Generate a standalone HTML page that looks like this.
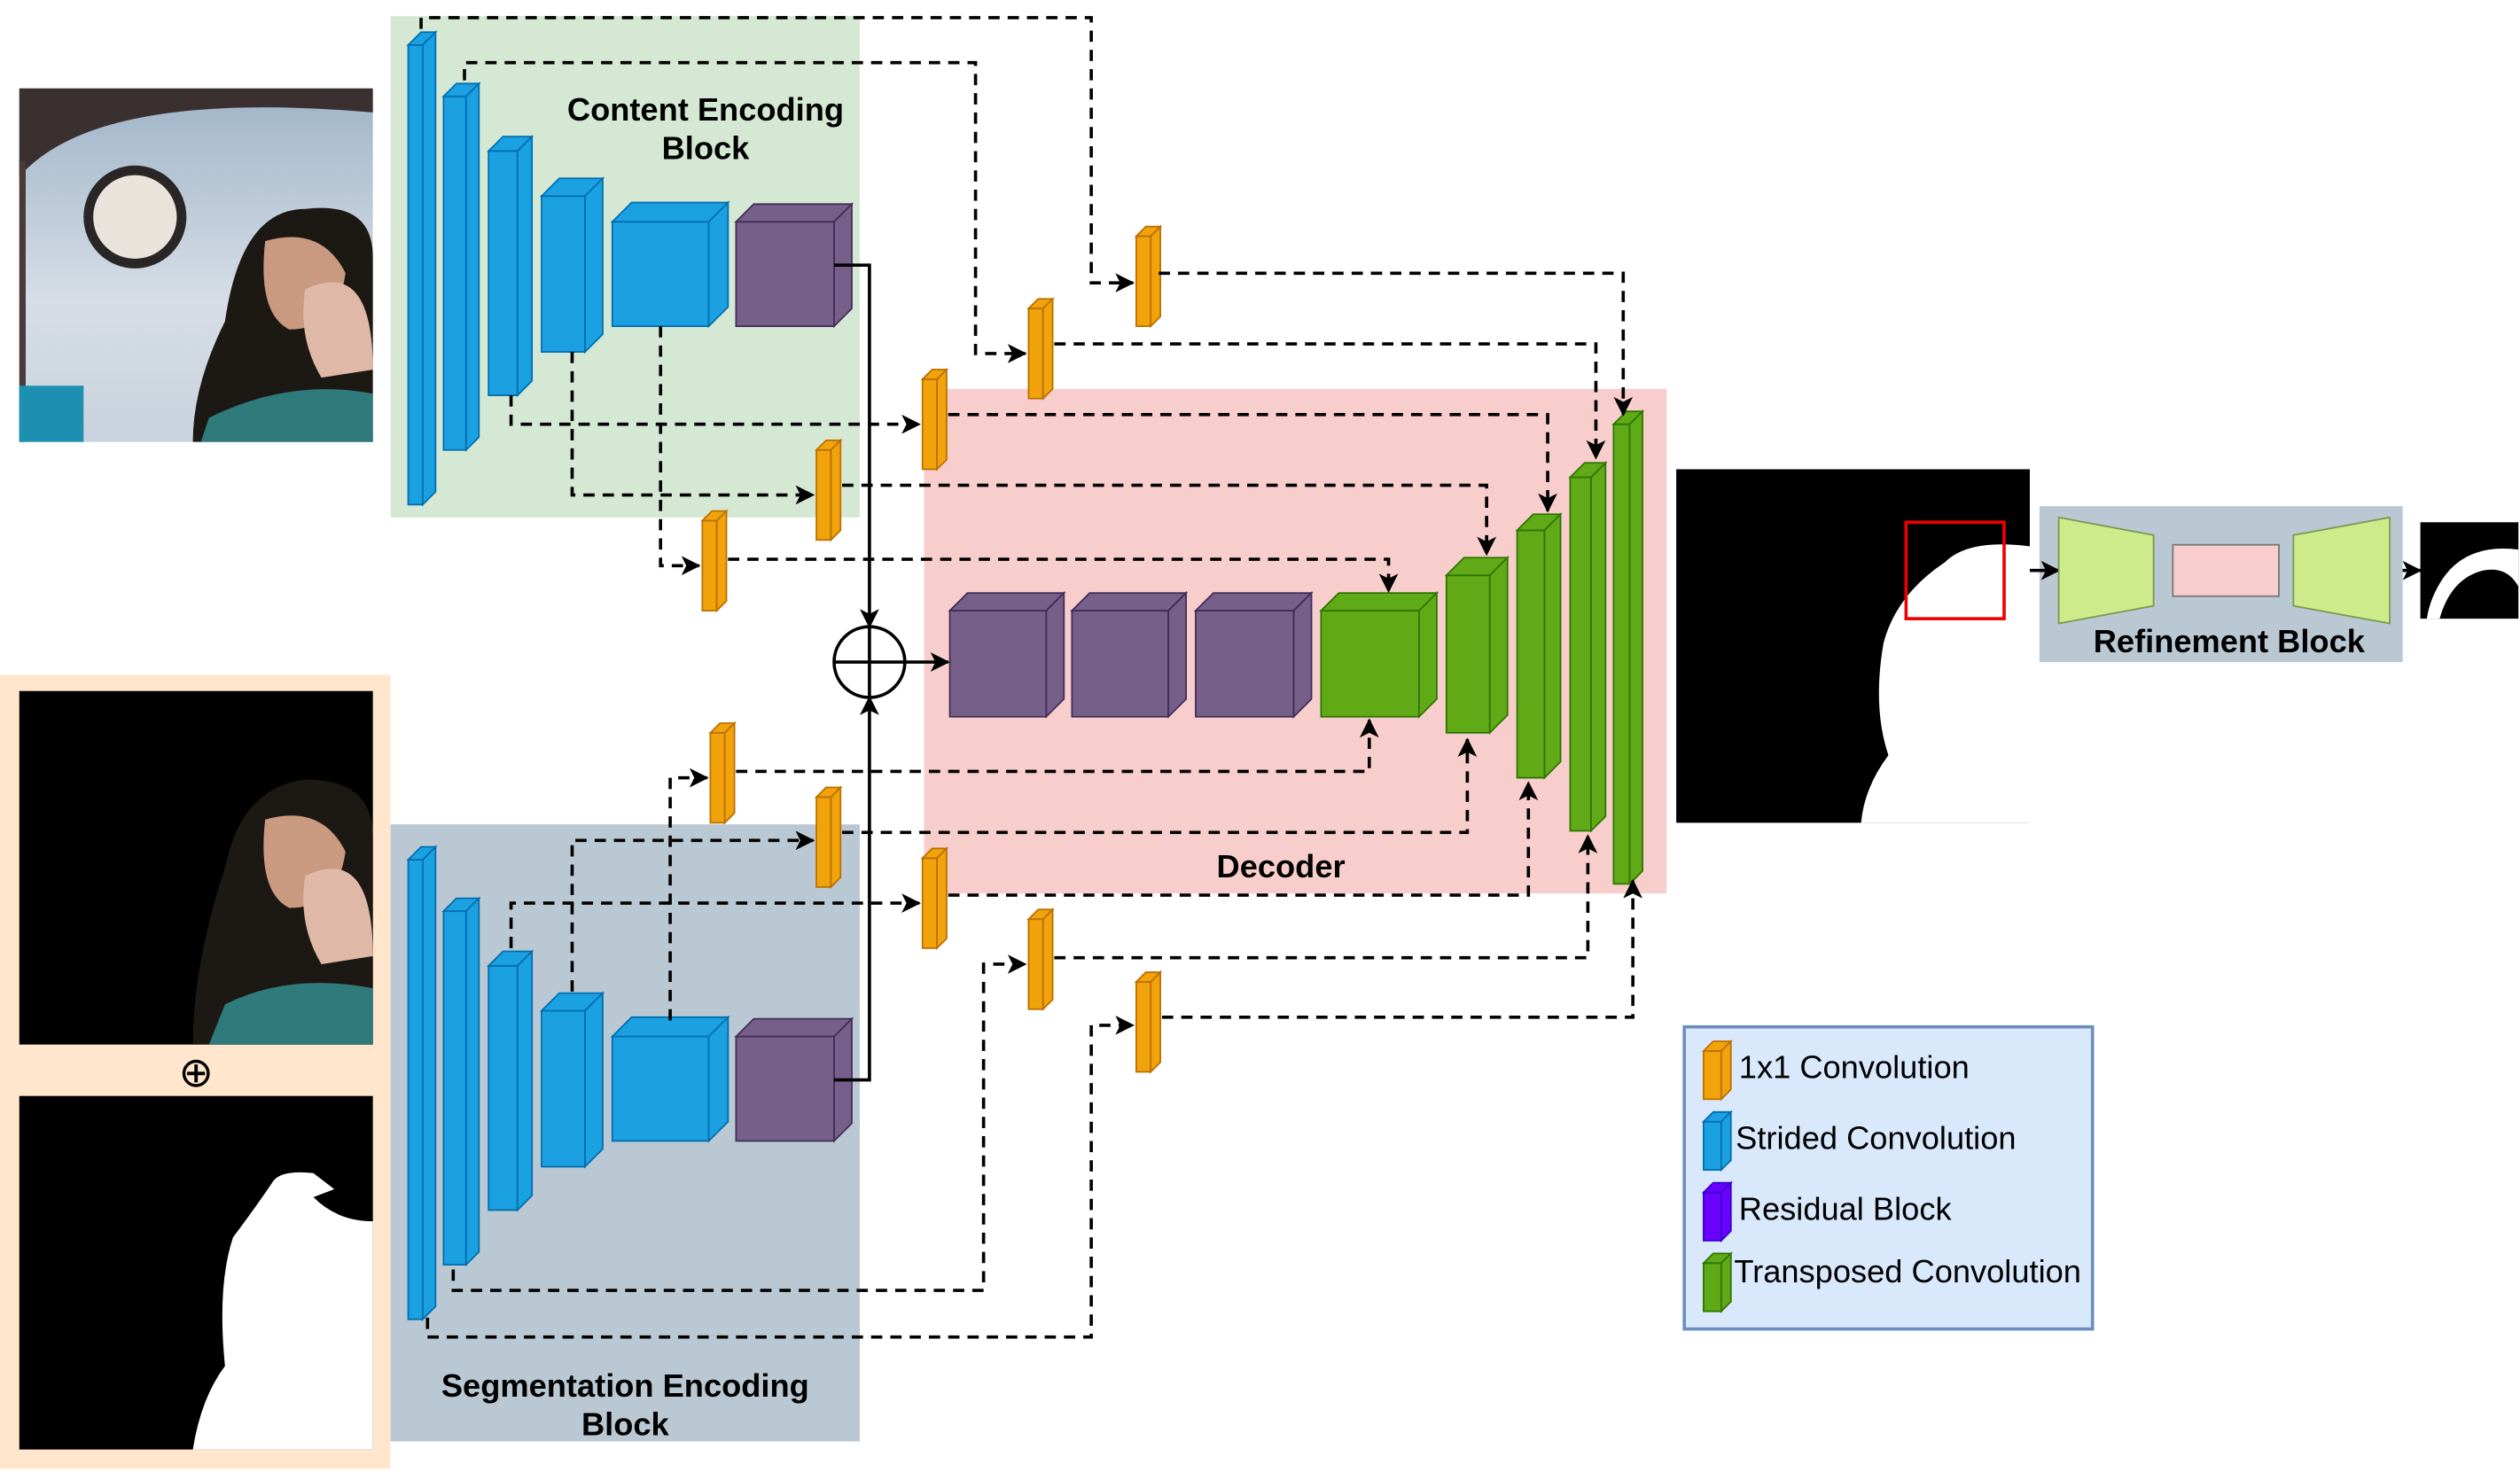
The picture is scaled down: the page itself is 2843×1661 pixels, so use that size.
<!DOCTYPE html>
<html><head><meta charset="utf-8"><style>
html,body{margin:0;padding:0;background:#fff;}
svg{display:block;}
text{font-family:"Liberation Sans",sans-serif;}
</style></head><body>
<svg id="s" width="2843" height="1661" viewBox="0 0 1568 916" preserveAspectRatio="none" xmlns="http://www.w3.org/2000/svg">
<defs>
<marker id="a" markerWidth="12" markerHeight="12" refX="11" refY="6" orient="auto" markerUnits="userSpaceOnUse"><path d="M0,0 L12,6 L0,12 L3,6 z" fill="#000"/></marker>
<linearGradient id="sky" x1="0" y1="0" x2="0" y2="1"><stop offset="0" stop-color="#9fb4c8"/><stop offset="0.6" stop-color="#d6dde6"/><stop offset="1" stop-color="#c9d3dd"/></linearGradient>
</defs>
<rect x="243" y="10" width="292" height="312" fill="#d5e8d4"/>
<rect x="243" y="513" width="292" height="384" fill="#bac8d3"/>
<rect x="0" y="420" width="243" height="494" fill="#ffe6cc"/>
<rect x="575" y="242" width="462" height="314" fill="#f8cecc"/>
<!-- photo -->
<rect x="12" y="55" width="220" height="220" fill="url(#sky)"/>
<path d="M12,110 Q60,55 232,70 L232,55 L12,55 z" fill="#3a3030"/>
<rect x="12" y="100" width="4" height="175" fill="#4a3a3a"/>
<circle cx="84" cy="135" r="32" fill="#2a2626"/><circle cx="84" cy="135" r="26" fill="#e8e4dc"/>
<path d="M140,200 Q150,130 190,130 Q232,125 232,160 L232,275 L120,275 Q120,240 140,200z" fill="#1c1814"/>
<path d="M165,150 Q200,140 215,170 Q210,205 180,205 Q160,195 165,150z" fill="#c99a80"/>
<path d="M190,180 Q232,160 232,230 L200,235 Q185,210 190,180z" fill="#e0b8a8"/>
<path d="M130,260 Q180,235 232,245 L232,275 L125,275z" fill="#2f7a7a"/>
<rect x="12" y="240" width="40" height="35" fill="#1d8fb0"/>
<!-- bottom images -->
<rect x="12" y="430" width="220" height="220" fill="#000"/>
<path d="M140,540 Q150,490 190,485 Q232,485 232,520 L232,650 L120,650 Q120,600 140,540z" fill="#1c1814"/>
<path d="M165,510 Q200,500 215,530 Q210,565 180,565 Q160,555 165,510z" fill="#c99a80"/>
<path d="M190,545 Q232,525 232,595 L200,600 Q185,575 190,545z" fill="#e0b8a8"/>
<path d="M140,625 Q180,605 232,615 L232,650 L130,650z" fill="#2f7a7a"/>
<rect x="12" y="682" width="220" height="220" fill="#000"/>
<path d="M232,902 L120,902 Q125,870 140,850 Q135,800 145,770 Q160,750 170,735 Q175,728 195,730 L208,740 L195,745 Q210,760 232,760z" fill="#fff"/>
<text x="122" y="676" font-size="26" text-anchor="middle">⊕</text>
<!-- output mask -->
<rect x="1043" y="292" width="220" height="220" fill="#000"/>
<path d="M1263,340 Q1225,335 1210,350 Q1180,370 1172,400 Q1165,440 1175,470 Q1160,490 1158,512 L1263,512z" fill="#fff"/>
<rect x="1186" y="325" width="61" height="60" fill="none" stroke="#e00" stroke-width="2"/>
<rect x="1269" y="315" width="226" height="97" fill="#bac8d3"/>
<line x1="1263" y1="355" x2="1281" y2="355" stroke="#000" stroke-width="2" marker-end="url(#a)"/>
<polygon points="1281,322 1340,333 1340,377 1281,388" fill="#cdeb8b" stroke="#7a9a50"/>
<rect x="1352" y="339" width="66" height="32" fill="#f8cecc" stroke="#777"/>
<polygon points="1427,333 1487,322 1487,388 1427,377" fill="#cdeb8b" stroke="#7a9a50"/>
<text x="1387" y="406" font-size="20" font-weight="bold" text-anchor="middle">Refinement Block</text>
<line x1="1495" y1="355" x2="1506" y2="355" stroke="#000" stroke-width="2" marker-end="url(#a)"/>
<rect x="1506" y="325" width="61" height="60" fill="#000"/>
<path d="M1567,342 Q1535,338 1520,360 Q1512,372 1510,385 L1518,385 Q1525,360 1545,355 Q1560,352 1567,365z" fill="#fff"/>
<!-- legend -->
<rect x="1048" y="639" width="254" height="188" fill="#dae8fc" stroke="#6c8ebf" stroke-width="2"/>
<text x="1082" y="671" font-size="20">1x1 Convolution</text>
<text x="1080" y="715" font-size="20">Strided Convolution</text>
<text x="1082" y="759" font-size="20">Residual Block</text>
<text x="1079" y="798" font-size="20">Transposed Convolution</text>
<g id="shapes"></g>
<g id="lines" fill="none" stroke="#000" stroke-width="2"></g>
<circle cx="541" cy="412" r="22" fill="none" stroke="#000" stroke-width="2"/>
<line x1="519" y1="412" x2="563" y2="412" stroke="#000" stroke-width="2"/>
<line x1="541" y1="390" x2="541" y2="434" stroke="#000" stroke-width="2"/>
<text x="439" y="75" font-size="20" font-weight="bold" text-anchor="middle">Content Encoding</text>
<text x="439" y="99" font-size="20" font-weight="bold" text-anchor="middle">Block</text>
<text x="389" y="869" font-size="20" font-weight="bold" text-anchor="middle">Segmentation Encoding</text>
<text x="389" y="893" font-size="20" font-weight="bold" text-anchor="middle">Block</text>
<text x="797" y="546" font-size="20" font-weight="bold" text-anchor="middle">Decoder</text>
</svg>
<script>
var NS="http://www.w3.org/2000/svg";
var C={b:["#1ba1e2","#006eaf"],p:["#76608a","#432d57"],g:["#60a917","#2d7600"],o:["#f0a30a","#bd7000"],v:["#6a00ff","#3700cc"]};
var S=document.getElementById("shapes");
function el(t,a,p){var e=document.createElementNS(NS,t);for(var k in a)e.setAttribute(k,a[k]);(p||S).appendChild(e);return e;}
function box(x,y,w,h,d,c){var f=C[c][0],s=C[c][1];
el("rect",{x:x,y:y,width:w,height:h,fill:f,stroke:s,"stroke-width":1});
el("polygon",{points:[x,y,x+d,y-d,x+w+d,y-d,x+w,y].join(","),fill:f,stroke:s,"stroke-width":1});
el("polygon",{points:[x+w,y,x+w+d,y-d,x+w+d,y+h-d,x+w,y+h].join(","),fill:f,stroke:s,"stroke-width":1});}
function enc(o){box(254,28+o,9,286,8,"b");box(276,60+o,14,220,8,"b");box(304,94+o,18,152,9,"b");box(337,122+o,27,97,11,"b");box(381,138+o,60,65,12,"b");box(458,138+o,61,65,11,"p");}
enc(0);enc(507);
box(591,380,60,66,11,"p");box(667,380,60,66,11,"p");box(744,380,61,66,11,"p");box(822,380,61,66,11,"g");
box(900,358,27,98,11,"g");box(944,330,17,154,10,"g");box(977,297,13,220,9,"g");box(1004,264,10,286,8,"g");
[[707,147],[640,192],[574,236],[508,280],[437,324],[442,456],[508,496],[574,534],[640,572],[707,611]].forEach(function(p){box(p[0],p[1],9,56,6,"o");});
box(1060,654,11,30,6,"o");box(1060,698,11,30,6,"b");box(1060,742,11,30,6,"v");box(1060,786,11,30,6,"g");
var L=document.getElementById("lines");
function pl(pts,dash,arrow){var a={points:pts.join(" ")};if(dash)a["stroke-dasharray"]="7,5";if(arrow)a["marker-end"]="url(#a)";el("polyline",a,L);}
var D=1;
pl(["262,18","262,11","679,11","679,176","705,176"],D,1);
pl(["721,170","1010,170","1010,258"],D,1);
pl(["289,50","289,39","607,39","607,220","638,220"],D,1);
pl(["656,214","993,214","993,285"],D,1);
pl(["318,246","318,264","572,264"],D,1);
pl(["590,258","963,258","963,318"],D,1);
pl(["356,219","356,308","506,308"],D,1);
pl(["524,302","925,302","925,345"],D,1);
pl(["411,203","411,352","435,352"],D,1);
pl(["453,348","864,348","864,368"],D,1);
pl(["519,165","541,165","541,390"],0,1);
pl(["519,672","541,672","541,434"],0,1);
pl(["563,412","590,412"],0,1);
pl(["417,635","417,484","440,484"],D,1);
pl(["458,480","852,480","852,448"],D,1);
pl(["356,617","356,523","506,523"],D,1);
pl(["524,518","913,518","913,460"],D,1);
pl(["318,590","318,562","572,562"],D,1);
pl(["590,557","951,557","951,487"],D,1);
pl(["282,790","282,803","612,803","612,600","638,600"],D,1);
pl(["656,596","988,596","988,520"],D,1);
pl(["266,820","266,832","679,832","679,638","705,638"],D,1);
pl(["723,633","1016,633","1016,548"],D,1);
</script>
</body></html>
